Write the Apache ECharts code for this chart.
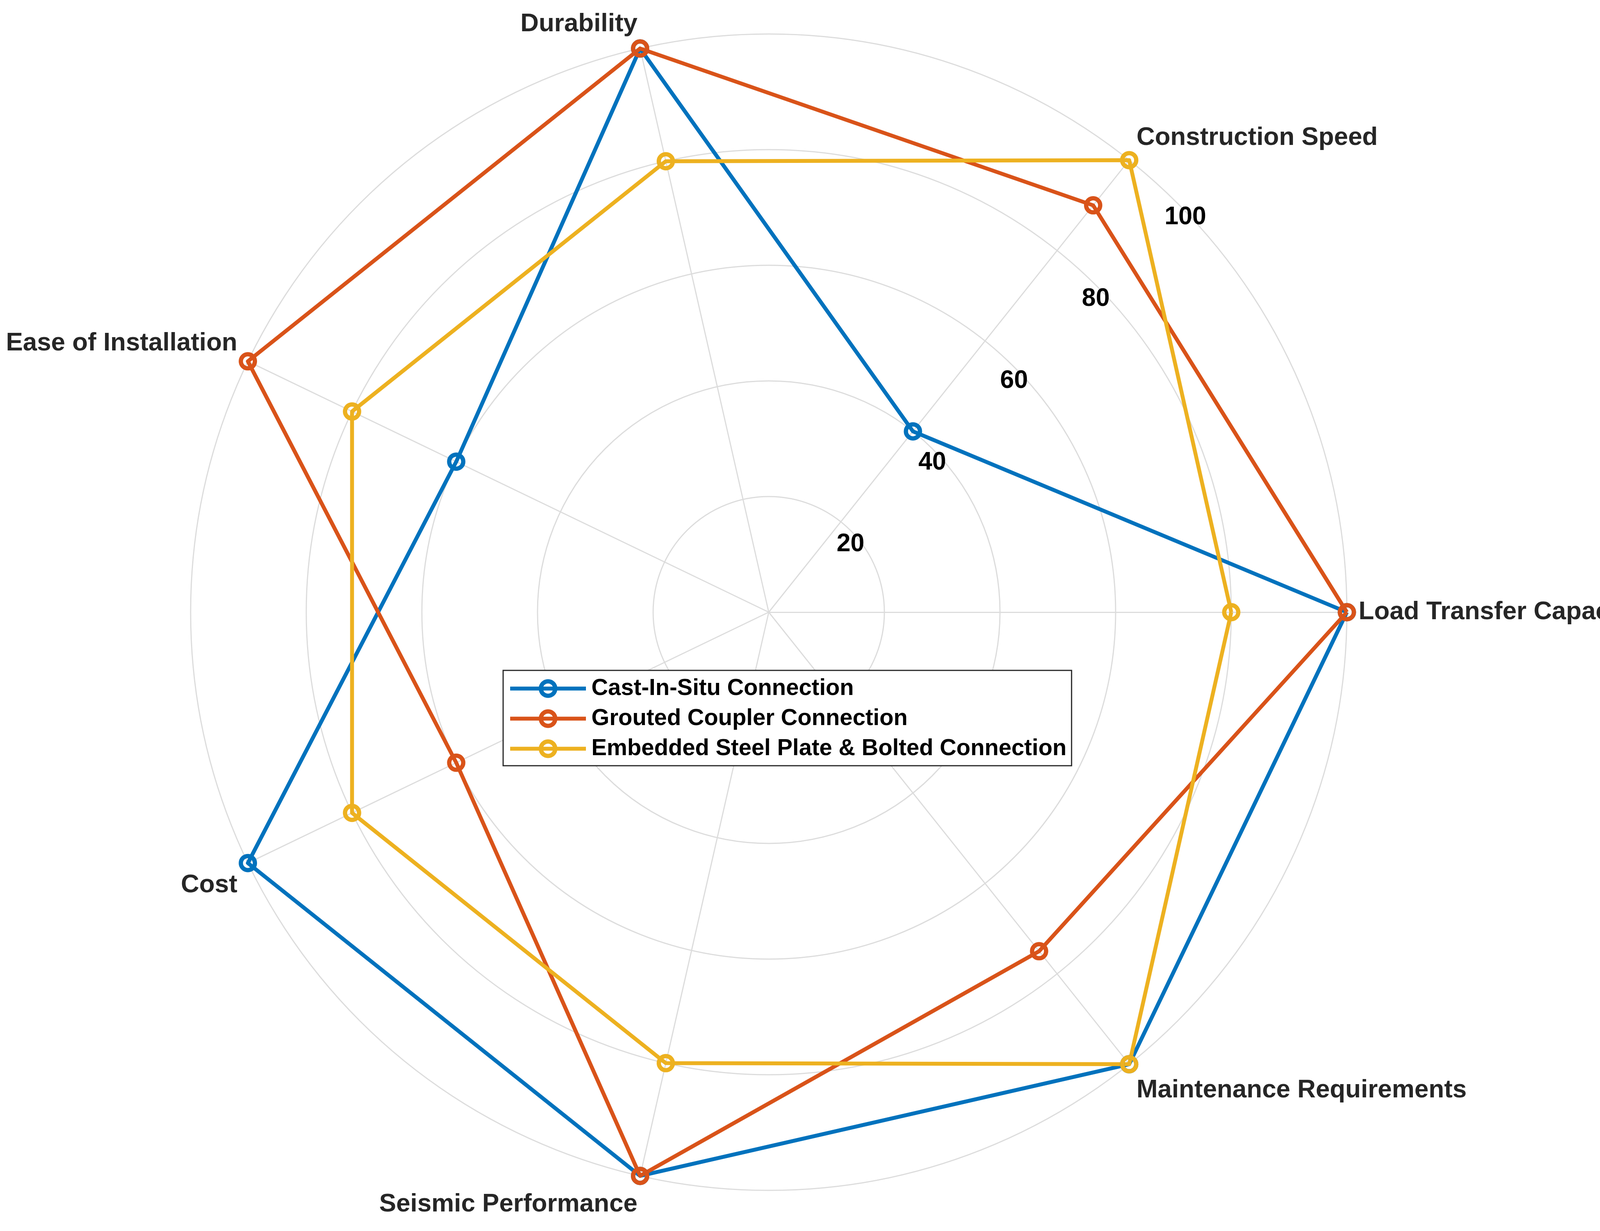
<!DOCTYPE html>
<html>
<head>
<meta charset="utf-8">
<script src="https://cdn.jsdelivr.net/npm/echarts@6/dist/echarts.min.js"></script>
<style>
html,body{margin:0;padding:0;background:#ffffff;}
#chart{width:4242px;height:3151px;}
</style>
</head>
<body>
<div id="chart"></div>
<script>
// ---- data ----
const indicators = ['Load Transfer Capacity', 'Construction Speed', 'Durability', 'Ease of Installation', 'Cost', 'Seismic Performance', 'Maintenance Requirements'];
const seriesNames = ['Cast-In-Situ Connection', 'Grouted Coupler Connection', 'Embedded Steel Plate & Bolted Connection'];
const castInSitu = [100, 40, 100, 60, 100, 100, 100];
const groutedCoupler = [100, 90, 100, 100, 60, 100, 75];
const embeddedPlate = [80, 100, 80, 80, 80, 80, 100];
const ringTicks = [0, 20, 40, 60, 80, 100];
const colors = ['#0072BD', '#D95319', '#EDB120'];

const seriesValues = [castInSitu, groutedCoupler, embeddedPlate];
const FONT = 'Liberation Sans, Arial, Helvetica, sans-serif';
const CX = 1968, CY = 1567, R = 1480;

const legendIcon = 'path://M0 20 L194 20 L194 30 L0 30 Z ' +
  'M73 25 A24 24 0 1 1 121 25 A24 24 0 1 1 73 25 Z ' +
  'M84 25 A13 13 0 1 0 110 25 A13 13 0 1 0 84 25 Z';

const chart = echarts.init(document.getElementById('chart'), null, {renderer: 'canvas'});

const option = {
  backgroundColor: '#ffffff',
  animation: false,
  legend: {
    orient: 'vertical',
    left: 1288,
    top: 1716,
    padding: [17, 13, 14, 18],
    itemGap: 18,
    itemWidth: 194,
    itemHeight: 50,
    backgroundColor: '#ffffff',
    borderColor: '#262626',
    borderWidth: 3,
    borderRadius: 0,
    selectedMode: false,
    itemStyle: {borderWidth: 0},
    textStyle: {fontFamily: FONT, fontSize: 59, fontWeight: 'bold', color: '#000000', padding: [0, 0, 0, 9]},
    data: seriesNames.map((n, i) => ({name: n, icon: legendIcon, itemStyle: {color: colors[i], borderWidth: 0}}))
  },
  radar: [{
    center: [CX, CY],
    radius: R,
    startAngle: 0,
    shape: 'circle',
    splitNumber: 5,
    indicator: indicators.map(n => ({name: n, min: 0, max: 100})),
    axisNameGap: 30,
    axisName: {
      fontFamily: FONT, fontSize: 65, fontWeight: 'bold', color: '#262626',
      formatter: function (name) {
        const idx = indicators.indexOf(name);
        const s = Math.sin(idx * 2 * Math.PI / indicators.length);
        if (s > 0.01) return '{u|' + name + '}';
        if (s < -0.01) return '{d|' + name + '}';
        return '{m|' + name + '}';
      },
      rich: {
        u: {fontFamily: FONT, fontSize: 65, fontWeight: 'bold', color: '#262626', padding: [0, 0, 66, 0]},
        d: {fontFamily: FONT, fontSize: 65, fontWeight: 'bold', color: '#262626', padding: [88, 0, 0, 0]},
        m: {fontFamily: FONT, fontSize: 65, fontWeight: 'bold', color: '#262626'}
      }
    },
    splitLine: {lineStyle: {color: '#dcdcdc', width: 3}},
    splitArea: {show: false},
    axisLine: {lineStyle: {color: '#dcdcdc', width: 3}},
    axisTick: {show: false},
    axisLabel: {show: false}
  }, {
    center: [CX, CY],
    radius: R,
    startAngle: 45,
    shape: 'circle',
    splitNumber: ringTicks.length - 1,
    indicator: [{name: '', min: ringTicks[0], max: ringTicks[ringTicks.length - 1]}],
    axisName: {show: false},
    splitLine: {show: false},
    splitArea: {show: false},
    axisLine: {show: false},
    axisTick: {show: false},
    axisLabel: {
      show: true,
      margin: 0,
      align: 'center',
      verticalAlign: 'top',
      fontFamily: FONT, fontSize: 64, fontWeight: 'bold', color: '#000000',
      formatter: function (v) {
        if (v === ringTicks[0]) return '';
        if (v === ringTicks[ringTicks.length - 1]) return '{w|' + v + '}';
        return '{n|' + v + '}';
      },
      rich: {
        n: {fontFamily: FONT, fontSize: 64, fontWeight: 'bold', color: '#000000', padding: [4, 0, 0, 0]},
        w: {fontFamily: FONT, fontSize: 64, fontWeight: 'bold', color: '#000000', padding: [4, 0, 0, 40]}
      }
    }
  }],
  series: [{
    type: 'radar',
    radarIndex: 0,
    symbol: 'circle',
    symbolSize: 36,
    data: seriesValues.map((vals, i) => ({
      name: seriesNames[i],
      value: vals,
      lineStyle: {color: colors[i], width: 10},
      itemStyle: {color: 'rgba(255,255,255,0)', borderColor: colors[i], borderWidth: 11}
    }))
  }]
};

chart.setOption(option);
</script>
</body>
</html>
